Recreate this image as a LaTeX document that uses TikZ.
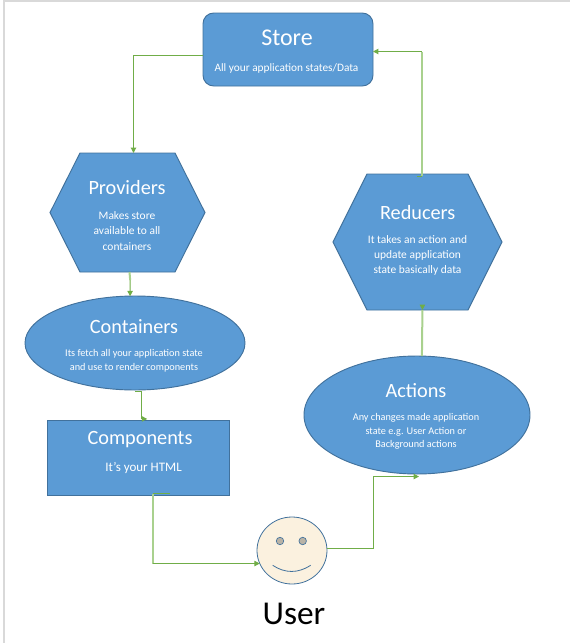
\documentclass[tikz,border=0pt]{standalone}
\usepackage{fontspec}
\setmainfont{Carlito}
\usetikzlibrary{arrows.meta,shapes.geometric}
\definecolor{boxblue}{HTML}{5B9BD5}
\definecolor{boxline}{HTML}{41719C}
\definecolor{flowgreen}{HTML}{70AD47}
\definecolor{flowlight}{HTML}{A9D18E}
\definecolor{faceskin}{HTML}{FBF1DF}
\definecolor{eyegray}{HTML}{B9B3A6}
\definecolor{pageedge}{HTML}{D9D9D9}
\tikzset{
  shapebox/.style={draw=boxline,fill=boxblue,line width=0.7pt,inner sep=0pt,outer sep=0pt},
  hexbox/.style={inner sep=0pt,outer sep=0pt},
  ovalbox/.style={shapebox,ellipse},
  flow/.style={draw=flowgreen,line width=0.75pt,-{Triangle[length=4pt,width=4pt]}},
  flowplain/.style={draw=flowgreen,line width=0.75pt},
  flowpale/.style={draw=flowlight,line width=1.5pt},
  titletext/.style={text=white,anchor=base,inner sep=0pt,font=\fontsize{15.2}{18}\selectfont},
  bodytext/.style={text=white,align=center,inner sep=0pt}
}
\begin{document}
\begin{tikzpicture}[x=0.75pt,y=-0.75pt]
  \useasboundingbox (0,0) rectangle (570,643);
  \draw[pageedge,line width=1.5pt] (3.5,643) -- (3.5,0.75) -- (570,0.75);

  \node[shapebox,rounded corners=8pt,minimum width=127.5pt,minimum height=54.75pt] (store) at (288,49.5) {};
  \node[hexbox,minimum width=116.25pt,minimum height=89.25pt] (providers) at (127.5,212.5) {};
  \node[hexbox,minimum width=126.75pt,minimum height=102pt] (reducers) at (417.5,242) {};
  \foreach \hex/\cut in {providers/22.5pt,reducers/25.5pt}
    \draw[shapebox] (\hex.west) -- ([xshift=\cut]\hex.north west) -- ([xshift=-\cut]\hex.north east) -- (\hex.east)
      -- ([xshift=-\cut]\hex.south east) -- ([xshift=\cut]\hex.south west) -- cycle;
  \node[ovalbox,minimum width=165pt,minimum height=70.5pt] (containers) at (135,343) {};
  \node[shapebox,minimum width=136.5pt,minimum height=56.25pt] (components) at (138,457.5) {};
  \node[ovalbox,minimum width=169.5pt,minimum height=88.5pt] (actions) at (417,415) {};
  \node[ellipse,draw=boxline,fill=faceskin,line width=0.6pt,inner sep=0pt,outer sep=0pt,minimum width=52.5pt,minimum height=50.25pt] (user) at (292,550.5) {};

  \foreach \x in {280,302.7}
    \draw[boxline,fill=eyegray,line width=0.5pt] (\x,541) circle (2.8pt);
  \draw[boxline,line width=0.6pt] (272.7,565.3) .. controls (285,573.5) and (298,573.5) .. (310.7,565.3);

  \node[titletext,font=\fontsize{18}{22}\selectfont] (storetitle) at (287,45) {Store};
  \node[bodytext,font=\fontsize{8.5}{11}\selectfont] (storebody) at (286.5,68.7) {All your application states/Data};
  \node[titletext] (providerstitle) at (127,194) {Providers};
  \node[bodytext,font=\fontsize{8.6}{11.6}\selectfont] (providersbody) at (127,230.7) {Makes store\\available to all\\containers};
  \node[titletext] (reducerstitle) at (417.7,219) {Reducers};
  \node[bodytext,font=\fontsize{8.6}{11.3}\selectfont] (reducersbody) at (417.5,255.7) {It takes an action and\\update application\\state basically data};
  \node[titletext] (containerstitle) at (134,333) {Containers};
  \node[bodytext,font=\fontsize{7.7}{10.5}\selectfont] (containersbody) at (134,360.7) {Its fetch all your application state\\and use to render components};
  \node[titletext] (componentstitle) at (140,444) {Components};
  \node[bodytext,font=\fontsize{9.75}{13}\selectfont] (componentsbody) at (143.5,467.5) {It’s your HTML};
  \node[titletext] (actionstitle) at (416,397) {Actions};
  \node[bodytext,font=\fontsize{7.7}{10.2}\selectfont] (actionsbody) at (416,431.7) {Any changes made application\\state e.g. User Action or\\Background actions};
  \node[anchor=base,inner sep=0pt,font=\fontsize{25}{29}\selectfont] (usertitle) at (294,624) {User};

  \coordinate (componentsdrop) at ([xshift=10.9pt,yshift=0.8pt]components.south);
  \coordinate (reducersrise) at ([xshift=3pt,yshift=-1.5pt]reducers.north);
  \coordinate (storeentry) at ([yshift=-1.5pt]store.east);

  \draw[flow] ([yshift=-4.5pt]store.west) -| ([xshift=4.5pt]providers.north);
  \draw[flowpale] ([xshift=1.5pt]providers.south) -- ([xshift=2pt,yshift=-6pt]providers.south);
  \draw[flow] ([xshift=2pt,yshift=-6pt]providers.south) -- ([xshift=-3.7pt,yshift=-0.2pt]containers.north);
  \draw[flowplain] ([yshift=-1.4pt]containers.south) -| ([xshift=2.6pt,yshift=0.8pt]components.north);
  \draw[flow] ([xshift=2.6pt,yshift=0.8pt]components.north) -- ([xshift=6.9pt,yshift=0.8pt]components.north);
  \draw[flowplain] ([xshift=24pt,yshift=0.8pt]components.south) -- (componentsdrop);
  \draw[flowpale] (componentsdrop) -- (componentsdrop |- user.202);
  \draw[flow] (componentsdrop |- user.202) -- (user.202);
  \draw[flow] ([yshift=1.5pt]user.east) -- ++(46.5,0) |- ([xshift=1.5pt,yshift=-1.9pt]actions.south);
  \draw[flowpale] ([xshift=3.7pt]actions.north) -- ([xshift=3.7pt]reducers.south);
  \draw[-{Triangle[length=4pt,width=4pt]},flowgreen,line width=0.75pt] ([xshift=3.7pt,yshift=2pt]reducers.south) -- ([xshift=3.7pt]reducers.south);
  \draw[flowplain] ([xshift=-0.4pt,yshift=-1.5pt]reducers.north) -- (reducersrise);
  \draw[flowpale] (reducersrise) -- (reducersrise |- storeentry);
  \draw[flow] (reducersrise |- storeentry) -- (storeentry);
\end{tikzpicture}
\end{document}
